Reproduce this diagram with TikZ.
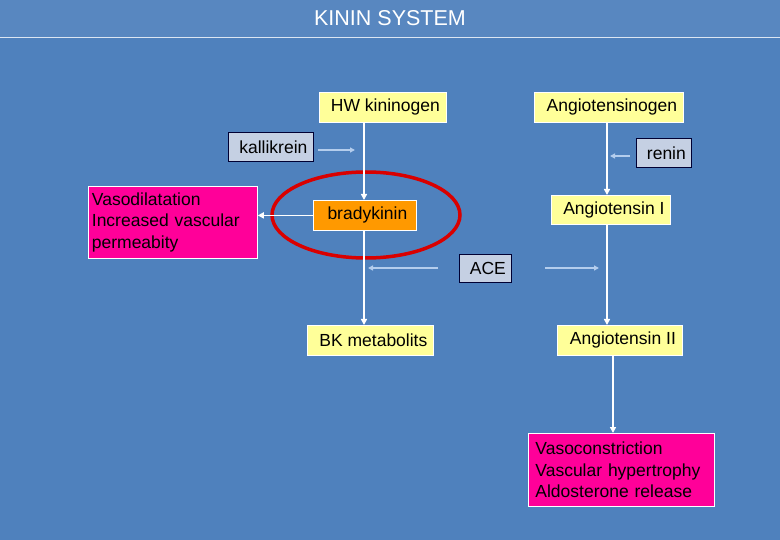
\documentclass[tikz,border=0pt]{standalone}
\usepackage{fontspec}
\setmainfont{Liberation Sans}
\usetikzlibrary{arrows.meta}
\definecolor{bg}{HTML}{4F81BD}
\definecolor{yel}{HTML}{FFFF99}
\definecolor{enz}{HTML}{C5D0E3}
\definecolor{mag}{HTML}{FF0099}
\definecolor{ora}{HTML}{FF9900}
\definecolor{lb}{HTML}{B4CDED}
\tikzset{
  box/.style={draw=white, line width=0.8pt, fill=yel, inner sep=0pt, anchor=north west, align=left, font=\fontsize{17.5}{21.5}\selectfont},
  enzbox/.style={box, fill=enz, draw=black!80!blue},
  flow/.style={draw=white, line width=1.5pt, -{Triangle[width=6pt,length=6pt]}},
  enzarrow/.style={draw=lb, line width=1.5pt, -{Triangle[width=5pt,length=5pt]}}
}
\begin{document}
\begin{tikzpicture}[x=1pt,y=-1pt]
\fill[bg] (0,0) rectangle (780,540);
\useasboundingbox (0,0) rectangle (780,540);
\draw[white!80!bg, fill=bg!95!white] (-1,-1) rectangle (781,37);
\node[white, font=\fontsize{21.5}{25}\selectfont] (title) at (390,18) {KININ SYSTEM};
\node[box, minimum width=127, minimum height=30] (hw) at (319,92) {\hspace{5pt}HW kininogen};
\node[box, minimum width=149, minimum height=30] (agn) at (534,92) {\hspace{6pt}Angiotensinogen};
\node[enzbox, minimum width=85, minimum height=29] (kal) at (228,132) {\hspace{5pt}kallikrein};
\node[enzbox, minimum width=55, minimum height=29] (ren) at (636,138) {\hspace{5pt}renin};
\node[box, fill=mag, minimum width=169, minimum height=72, text width=166] (vaso) at (88,186) {\hspace{2pt}Vasodilatation\\\hspace{2pt}Increased vascular\\\hspace{2pt}permeabity};
\node[box, fill=ora, minimum width=103, minimum height=30] (bk) at (313,200) {\hspace{5pt}bradykinin};
\node[box, minimum width=119, minimum height=29] (a1) at (551,195) {\hspace{6pt}Angiotensin I};
\node[enzbox, minimum width=52, minimum height=28] (ace) at (459,254) {\hspace{5pt}ACE};
\node[box, minimum width=126, minimum height=30] (bkm) at (307,325) {\hspace{6pt}BK metabolits};
\node[box, minimum width=125, minimum height=30] (a2) at (557,325) {\hspace{6pt}Angiotensin II};
\node[box, fill=mag, minimum width=186, minimum height=73, text width=184] (vc) at (528,433) {\hspace{6pt}Vasoconstriction\\\hspace{6pt}Vascular hypertrophy\\\hspace{6pt}Aldosterone release};
\draw[red!85!black, line width=3.5pt] (366,215) ellipse [x radius=94, y radius=43];
\draw[flow] (hw.south -| 364,0) -- (bk.north -| 364,0);
\draw[flow] (bk.south -| 364,0) -- (bkm.north -| 364,0);
\draw[flow] (bk.west) -- (vaso.east |- bk.west);
\draw[flow] (agn.south -| 607,0) -- (a1.north -| 607,0);
\draw[flow] (a1.south -| 607,0) -- (a2.north -| 607,0);
\draw[flow] (a2.south -| 613,0) -- (vc.north -| 613,0);
\coordinate (k1) at (318,150); \coordinate (k2) at (355,150);
\coordinate (r1) at (630,156); \coordinate (r2) at (610,156);
\coordinate (c1) at (438,268); \coordinate (c2) at (368,268);
\coordinate (c3) at (545,268); \coordinate (c4) at (599,268);
\draw[enzarrow] (k1) -- (k2);
\draw[enzarrow] (r1) -- (r2);
\draw[enzarrow] (c1) -- (c2);
\draw[enzarrow] (c3) -- (c4);
\end{tikzpicture}
\end{document}
